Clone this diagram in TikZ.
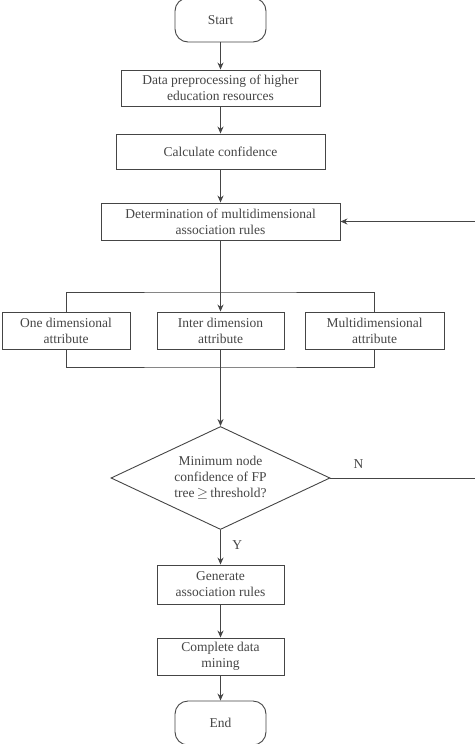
\documentclass[tikz,border=0pt]{standalone}
\usepackage{fontspec}
\setmainfont{Liberation Serif}
\usetikzlibrary{shapes.geometric,arrows.meta}
\definecolor{ink}{HTML}{454545}

\begin{document}
\begin{tikzpicture}[x=1pt,y=-1pt,
  box/.style={draw=ink,line width=0.9pt,align=center,inner sep=0pt,text=ink,
    font=\fontsize{13.5}{16}\selectfont},
  term/.style={box,rounded corners=13pt,minimum width=91pt,minimum height=44pt},
  flow/.style={draw=ink,line width=0.9pt,-{Stealth[length=7pt,width=6pt]}},
  link/.style={draw=ink,line width=0.9pt}]
\useasboundingbox (0,0) rectangle (474,744);

\node[term] (start) at (220.5,20) {Start};
\node[box,minimum width=199pt,minimum height=36pt] (prep) at (220.5,88) {Data preprocessing of higher\\education resources};
\node[box,minimum width=209pt,minimum height=35pt] (calc) at (220.5,151.5) {Calculate confidence};
\node[box,minimum width=239pt,minimum height=37pt] (rules) at (220.5,221.5) {Determination of multidimensional\\association rules};

\node[box,minimum width=128pt,minimum height=37pt] (one) at (66,330.5) {One dimensional\\attribute};
\node[box,minimum width=127pt,minimum height=37pt] (inter) at (220.5,330.5) {Inter dimension\\attribute};
\node[box,minimum width=139pt,minimum height=37pt] (multi) at (374.5,330.5) {Multidimensional\\attribute};
\coordinate (top) at (220.5,292);
\coordinate (bot) at (220.5,367);

\node[box,diamond,shape aspect=2.1,minimum width=219pt,minimum height=103pt] (dec) at (220.5,478) {Minimum node\\confidence of FP\\tree\,$\geq$\,threshold?};
\coordinate (loop) at (478,478);

\node[box,minimum width=127pt,minimum height=39pt] (gen) at (220.5,584.5) {Generate\\association rules};
\node[box,minimum width=127pt,minimum height=37pt] (done) at (220.5,656.5) {Complete data\\mining};
\node[term] (end) at (220.5,723) {End};

\draw[flow] (start) -- (prep);
\draw[flow] (prep) -- (calc);
\draw[flow] (calc) -- (rules);
\draw[flow] (rules) -- (inter);
\draw[link] (one.north) |- (top) -| (multi.north);
\draw[link] (one.south) |- (bot) -| (multi.south);
\draw[flow] (inter) -- (dec);
\draw[flow] (dec) -- node[right=8pt,pos=0.45,text=ink,font=\fontsize{13.5}{16}\selectfont] {Y} (gen);
\draw[flow] (gen) -- (done);
\draw[flow] (done) -- (end);
\draw[flow] (dec.east) -- node[above=6pt,pos=0.19,text=ink,font=\fontsize{13.5}{16}\selectfont] {N} (loop) |- (rules.east);
\end{tikzpicture}
\end{document}
